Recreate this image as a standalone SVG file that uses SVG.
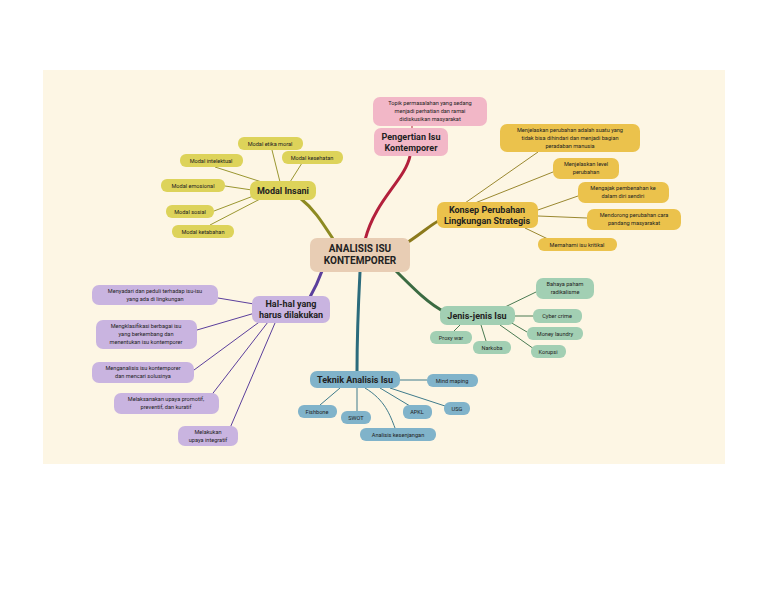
<svg xmlns="http://www.w3.org/2000/svg" width="768" height="594" viewBox="0 0 768 594">
<style>
text{font-family:"Roboto","Liberation Sans",sans-serif;text-anchor:middle;fill:#222}
.s{font-size:5.6px}
.m{font-size:9px;font-weight:bold}
.c{font-size:10px;font-weight:bold}
.y rect{fill:#ddd35a}
.g rect{fill:#ebc24c}
.p rect{fill:#f2b7c7}
.v rect{fill:#c9b4e0}
.e rect{fill:#a2cfb3}
.b rect{fill:#80b3ca}
.thin path{fill:none;stroke-width:1}
</style>
<rect x="0" y="0" width="768" height="594" fill="#fff"/>
<rect x="43" y="70" width="682" height="394" fill="#fdf6e4"/>
<g id="connectors">
<path d="M335,242 C322,222 315,210 300,198" fill="none" stroke="#8d8a22" stroke-width="3"/>
<path d="M365,240 C375,200 405,180 410,156" fill="none" stroke="#b3203c" stroke-width="3"/>
<path d="M402,246 C420,235 430,225 440,220" fill="none" stroke="#8c7a1c" stroke-width="3"/>
<path d="M322,271 C318,282 314,290 310,297" fill="none" stroke="#5b3f9c" stroke-width="3"/>
<path d="M395,270 C415,290 430,305 445,312" fill="none" stroke="#3b6b42" stroke-width="3"/>
<path d="M360,272 C358,310 357,340 357,372" fill="none" stroke="#2b6b7c" stroke-width="3"/>
<g class="thin">
<path d="M412,112 L412,128" stroke="#b3203c"/>
<path d="M280,182 L272,150 M268,184 L215,167 M252,190 L225,186 M256,195 L214,211 M262,198 L210,225 M290,182 L302,163" stroke="#9a9630"/>
<path d="M465,203 L538,152 M475,203 L553,172 M535,211 L578,196 M538,216 L587,218 M525,228 L550,240" stroke="#9a8830"/>
<path d="M260,305 L218,298 M255,313 L197,330 M262,320 L194,370 M268,322 L210,397 M275,323 L230,428" stroke="#5b3f9c"/>
<path d="M505,307 L536,292 M515,316 L533,316 M510,322 L527,332 M500,325 L534,349 M481,325 L486,341 M460,325 L453,332" stroke="#4a7a52"/>
<path d="M400,380 L427,380 M390,388 L445,406 M380,388 L410,406 M365,388 C385,400 390,415 395,428 M357,388 L357,411 M340,388 L320,405" stroke="#3f7b8b"/>
</g>
</g>
<g id="center"><rect x="310" y="238" width="100" height="34" rx="7" fill="#e8cdb4"/><text class="c" x="360" y="252">ANALISIS ISU</text><text class="c" x="360" y="264">KONTEMPORER</text></g>
<g id="pengertian" class="p"><rect x="374" y="128" width="74" height="28" rx="7"/><text class="m" x="411" y="140">Pengertian Isu</text><text class="m" x="411" y="151">Kontemporer</text></g>
<g id="pengertian-def" class="p"><rect x="373" y="97" width="114" height="29" rx="7"/><text class="s" x="430" y="105">Topik permasalahan yang sedang</text><text class="s" x="430" y="113">menjadi perhatian dan ramai</text><text class="s" x="430" y="121">didiskusikan masyarakat</text></g>
<g id="modal" class="y"><rect x="250" y="181" width="66" height="19" rx="7"/><text class="m" x="283" y="194">Modal Insani</text></g>
<g id="m1" class="y"><rect x="238" y="137" width="65" height="13" rx="6"/><text class="s" x="270" y="145.5">Modal etika moral</text></g>
<g id="m2" class="y"><rect x="180" y="154" width="63" height="13" rx="6"/><text class="s" x="211" y="162.5">Modal intelektual</text></g>
<g id="m3" class="y"><rect x="282" y="151" width="61" height="13" rx="6"/><text class="s" x="312" y="159.5">Modal kesehatan</text></g>
<g id="m4" class="y"><rect x="161" y="179" width="64" height="13" rx="6"/><text class="s" x="193" y="187.5">Modal emosional</text></g>
<g id="m5" class="y"><rect x="166" y="205" width="48" height="13" rx="6"/><text class="s" x="190" y="213.5">Modal sosial</text></g>
<g id="m6" class="y"><rect x="172" y="225" width="62" height="13" rx="6"/><text class="s" x="203" y="233.5">Modal ketabahan</text></g>
<g id="konsep" class="g"><rect x="437" y="202" width="101" height="26" rx="7"/><text class="m" x="487" y="213">Konsep Perubahan</text><text class="m" x="487" y="224">Lingkungan Strategis</text></g>
<g id="k1" class="g"><rect x="500" y="124" width="140" height="28" rx="7"/><text class="s" x="570" y="132">Menjelaskan perubahan adalah suatu yang</text><text class="s" x="570" y="140">tidak bisa dihindari dan menjadi bagian</text><text class="s" x="570" y="148">peradaban manusia</text></g>
<g id="k2" class="g"><rect x="553" y="158" width="66" height="21" rx="7"/><text class="s" x="586" y="166">Menjelaskan level</text><text class="s" x="586" y="174">perubahan</text></g>
<g id="k3" class="g"><rect x="578" y="182" width="91" height="21" rx="7"/><text class="s" x="623" y="190">Mengajak pembenahan ke</text><text class="s" x="623" y="198">dalam diri sendiri</text></g>
<g id="k4" class="g"><rect x="587" y="209" width="94" height="21" rx="7"/><text class="s" x="634" y="217">Mendorong perubahan cara</text><text class="s" x="634" y="225">pandang masyarakat</text></g>
<g id="k5" class="g"><rect x="538" y="238" width="79" height="13" rx="6"/><text class="s" x="577" y="246.5">Memahami isu kritikal</text></g>
<g id="hal" class="v"><rect x="252" y="296" width="78" height="27" rx="7"/><text class="m" x="291" y="307">Hal-hal yang</text><text class="m" x="291" y="318">harus dilakukan</text></g>
<g id="h1" class="v"><rect x="92" y="285" width="126" height="20" rx="7"/><text class="s" x="155" y="293">Menyadari dan peduli terhadap isu-isu</text><text class="s" x="155" y="301">yang ada di lingkungan</text></g>
<g id="h2" class="v"><rect x="96" y="320" width="101" height="29" rx="7"/><text class="s" x="146" y="328">Mengklasifikasi berbagai isu</text><text class="s" x="146" y="336">yang berkembang dan</text><text class="s" x="146" y="344">menentukan isu kontemporer</text></g>
<g id="h3" class="v"><rect x="92" y="362" width="102" height="21" rx="7"/><text class="s" x="143" y="370">Menganalisis isu kontemporer</text><text class="s" x="143" y="378">dan mencari solusinya</text></g>
<g id="h4" class="v"><rect x="114" y="393" width="105" height="21" rx="7"/><text class="s" x="166" y="401">Melaksanakan upaya promotif,</text><text class="s" x="166" y="409">preventif, dan kuratif</text></g>
<g id="h5" class="v"><rect x="178" y="426" width="60" height="20" rx="7"/><text class="s" x="208" y="434">Melakukan</text><text class="s" x="208" y="442">upaya integratif</text></g>
<g id="jenis" class="e"><rect x="440" y="306" width="75" height="19" rx="7"/><text class="m" x="477" y="319">Jenis-jenis Isu</text></g>
<g id="j1" class="e"><rect x="536" y="278" width="58" height="21" rx="7"/><text class="s" x="565" y="286">Bahaya paham</text><text class="s" x="565" y="294">radikalisme</text></g>
<g id="j2" class="e"><rect x="533" y="309" width="49" height="14" rx="6"/><text class="s" x="557" y="318">Cyber crime</text></g>
<g id="j3" class="e"><rect x="527" y="327" width="56" height="13" rx="6"/><text class="s" x="555" y="335.5">Money laundry</text></g>
<g id="j4" class="e"><rect x="531" y="345" width="35" height="13" rx="6"/><text class="s" x="548" y="353.5">Korupsi</text></g>
<g id="j5" class="e"><rect x="473" y="341" width="38" height="13" rx="6"/><text class="s" x="492" y="349.5">Narkoba</text></g>
<g id="j6" class="e"><rect x="430" y="331" width="42" height="13" rx="6"/><text class="s" x="451" y="339.5">Proxy war</text></g>
<g id="teknik" class="b"><rect x="310" y="371" width="90" height="17" rx="7"/><text class="m" x="355" y="383">Teknik Analisis Isu</text></g>
<g id="t1" class="b"><rect x="427" y="374" width="51" height="13" rx="6"/><text class="s" x="452" y="382.5">Mind maping</text></g>
<g id="t2" class="b"><rect x="298" y="405" width="39" height="13" rx="6"/><text class="s" x="317" y="413.5">Fishbone</text></g>
<g id="t3" class="b"><rect x="341" y="411" width="30" height="13" rx="6"/><text class="s" x="356" y="419.5">SWOT</text></g>
<g id="t4" class="b"><rect x="403" y="405" width="29" height="14" rx="6"/><text class="s" x="417" y="414">APKL</text></g>
<g id="t5" class="b"><rect x="444" y="402" width="26" height="13" rx="6"/><text class="s" x="457" y="410.5">USG</text></g>
<g id="t6" class="b"><rect x="360" y="428" width="76" height="13" rx="6"/><text class="s" x="398" y="436.5">Analisis kesenjangan</text></g>
</svg>
